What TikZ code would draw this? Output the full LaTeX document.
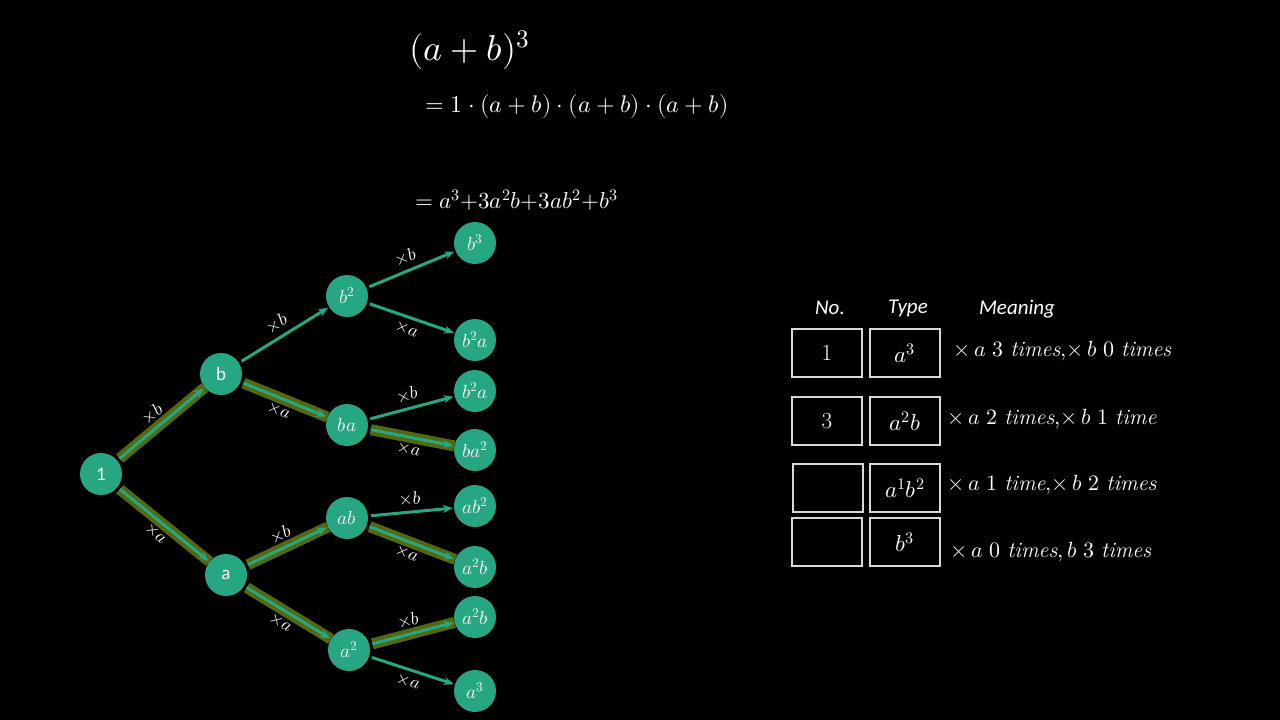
\documentclass[tikz,border=0pt]{standalone}
\usepackage{amsmath}
\usepackage{fontspec}
\usepackage{unicode-math}
\setmathfont{Latin Modern Math}
\setsansfont{Carlito}
\usetikzlibrary{arrows.meta}
\definecolor{nodegreen}{RGB}{38,166,130}
\definecolor{glow}{RGB}{140,175,25}
\tikzset{
  vert/.style={circle,fill=nodegreen,minimum size=42pt,inner sep=0pt,text=white,font=\fontsize{19}{21}\selectfont},
  branch/.style={-{Stealth[length=10pt,width=8pt]},draw=nodegreen,line width=3pt,shorten <=3pt,shorten >=1pt},
  lit/.style={preaction={draw=glow,line width=11pt,opacity=0.6,-,shorten >=0pt}},
  lab/.style={sloped,text=white,font=\fontsize{18}{20}\selectfont,inner sep=6pt},
  cell/.style={draw=white!85!black,line width=1.2pt,minimum width=70pt,minimum height=48pt,text=white,font=\fontsize{23}{25}\selectfont,inner sep=0pt},
  head/.style={text=white,font=\sffamily\itshape\fontsize{21}{23}\selectfont},
  mean/.style={text=white,anchor=west,font=\fontsize{22}{24}\selectfont},
}
\begin{document}
\begin{tikzpicture}[x=1pt,y=-1pt]
\fill[black] (0,0) rectangle (1280,720);
\useasboundingbox (0,0) rectangle (1280,720);
% equations
\node[text=white,anchor=west,font=\fontsize{36}{38}\selectfont] (eq1) at (406,50) {$(a+b)^3$};
\node[text=white,anchor=west,font=\fontsize{24}{26}\selectfont] (eq2) at (422,106) {$=1\cdot(a+b)\cdot(a+b)\cdot(a+b)$};
\node[text=white,anchor=west,font=\fontsize{23}{25}\selectfont] (eq3) at (412,200) {$=a^3{+}3a^2b{+}3ab^2{+}b^3$};
% tree
\node[vert] (r) at (101,474) {\sffamily 1};
\node[vert] (b) at (221,374) {\sffamily b};
\node[vert] (a) at (226,575) {\sffamily a};
\node[vert] (bb) at (347,296) {$b^2$};
\node[vert] (ba) at (347,425) {$ba$};
\node[vert] (ab) at (347,518) {$ab$};
\node[vert] (aa) at (349,650) {$a^2$};
\node[vert] (bbb) at (475,243) {$b^3$};
\node[vert] (bba) at (475,340) {$b^2a$};
\node[vert] (bab) at (475,391) {$b^2a$};
\node[vert] (baa) at (475,450) {$ba^2$};
\node[vert] (abb) at (475,506) {$ab^2$};
\node[vert] (aab) at (475,567) {$a^2b$};
\node[vert] (aab2) at (475,617) {$a^2b$};
\node[vert] (aaa) at (475,691) {$a^3$};
\draw[branch,lit] (r) -- node[lab,above] {$\times b$} (b);
\draw[branch,lit] (r) -- node[lab,below] {$\times a$} (a);
\draw[branch] (b) -- node[lab,above] {$\times b$} (bb);
\draw[branch,lit] (b) -- node[lab,below] {$\times a$} (ba);
\draw[branch,lit] (a) -- node[lab,above] {$\times b$} (ab);
\draw[branch,lit] (a) -- node[lab,below] {$\times a$} (aa);
\draw[branch] (bb) -- node[lab,above] {$\times b$} (bbb);
\draw[branch] (bb) -- node[lab,below] {$\times a$} (bba);
\draw[branch] (ba) -- node[lab,above] {$\times b$} (bab);
\draw[branch,lit] (ba) -- node[lab,below] {$\times a$} (baa);
\draw[branch] (ab) -- node[lab,above] {$\times b$} (abb);
\draw[branch,lit] (ab) -- node[lab,below] {$\times a$} (aab);
\draw[branch,lit] (aa) -- node[lab,above] {$\times b$} (aab2);
\draw[branch] (aa) -- node[lab,below] {$\times a$} (aaa);
% table
\node[head] (hno) at (830,308) {No.};
\node[head] (htype) at (908,308) {Type};
\node[head] (hmean) at (1017,309) {Meaning};
\node[cell] (n1) at (827,353) {1};
\node[cell] (n2) at (827,421) {3};
\node[cell] (n3) at (828,488) {};
\node[cell] (n4) at (827,542) {};
\node[cell] (t1) at (905,353) {$a^3$};
\node[cell] (t2) at (905,421) {$a^2b$};
\node[cell] (t3) at (905,488) {$a^1b^2$};
\node[cell] (t4) at (905,542) {$b^3$};
\node[mean] (m1) at (950,351) {$\times\, a\ 3\ \mathit{times},\!\times\, b\ 0\ \mathit{times}$};
\node[mean] (m2) at (944,419) {$\times\, a\ 2\ \mathit{times},\!\times\, b\ 1\ \mathit{time}$};
\node[mean] (m3) at (944,485) {$\times\, a\ 1\ \mathit{time},\!\times\, b\ 2\ \mathit{times}$};
\node[mean] (m4) at (947,552) {$\times\, a\ 0\ \mathit{times},b\ 3\ \mathit{times}$};
\end{tikzpicture}
\end{document}
